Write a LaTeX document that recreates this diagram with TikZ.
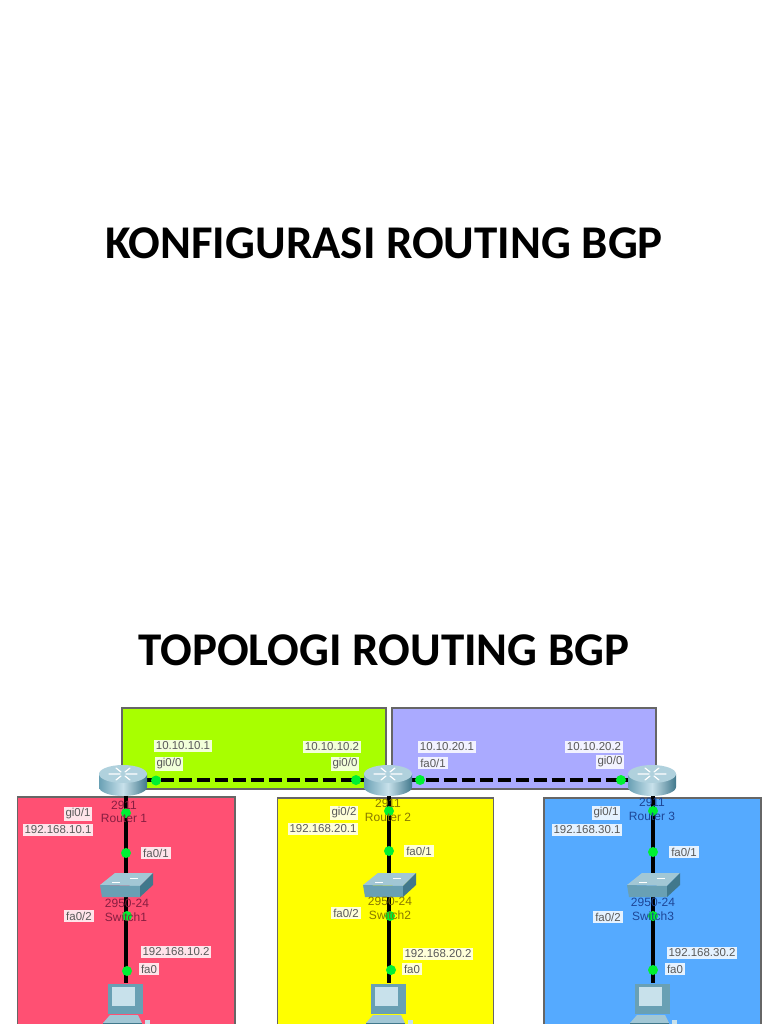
\documentclass[tikz,border=0pt]{standalone}
\usepackage{fontspec}
\setmainfont{Carlito}
\newfontfamily\labelfont{Liberation Sans}
\definecolor{greenzone}{RGB}{168, 255, 0}
\definecolor{purplezone}{RGB}{170, 170, 255}
\definecolor{pinkzone}{RGB}{255, 80, 115}
\definecolor{yellowzone}{RGB}{255, 255, 0}
\definecolor{bluezone}{RGB}{85, 170, 255}
\definecolor{pinktext}{RGB}{135, 30, 65}
\definecolor{yellowtext}{RGB}{135, 120, 0}
\definecolor{bluetext}{RGB}{30, 70, 150}
\definecolor{portgreen}{RGB}{0, 240, 50}
\definecolor{devicesteel}{RGB}{105, 160, 180}
\definecolor{devicelight}{RGB}{200, 225, 235}
\definecolor{devicedark}{RGB}{65, 120, 140}
\tikzset{
    zone/.style={draw=black!60, line width=0.8pt},
    titletext/.style={font=\bfseries\fontsize{35.2}{38}\selectfont, inner sep=0pt},
    portlabel/.style={fill=white, fill opacity=0.85, text opacity=1, text=black!65, font=\labelfont\fontsize{8.6}{10}\selectfont, inner xsep=1.5pt, inner ysep=1.5pt},
    devicetext/.style={font=\labelfont\fontsize{9}{10}\selectfont, inner sep=0pt},
    port/.style={circle, fill=portgreen, inner sep=0pt, minimum size=7.5pt},
    device/.style={inner sep=0pt, minimum size=2pt},
    cable/.style={line width=3pt, black},
    wancable/.style={line width=3.2pt, black, dash pattern=on 10pt off 3.5pt},
}
\begin{document}
\begin{tikzpicture}[x=0.75pt, y=-0.75pt]
        \useasboundingbox (0,0) rectangle (768,1024);
        \clip (0,0) rectangle (768,1024);

        % Titles
        \node[titletext] (konfigurasi) at (384,243) {KONFIGURASI ROUTING BGP};
        \node[titletext] (topologi) at (384,650) {TOPOLOGI ROUTING BGP};

        % Zones
        \foreach \name/\xa/\ya/\xb/\yb/\col in {zonea/122/708/386/789/greenzone, zoneb/392/708/656/789/purplezone, zonec/17.5/797/235/1030/pinkzone, zoned/277.5/798/493.5/1030/yellowzone, zonee/544/798/761/1030/bluezone} {
            \filldraw[zone, fill=\col] (\xa,\ya) rectangle (\xb,\yb);
        }

        % Devices and ports
        \foreach \n/\rx/\ry/\lx in {1/123/780/126, 2/388/780/389, 3/652/780/653} {
            \node[device] (router\n) at (\rx,\ry) {};
            \coordinate (uplink\n) at (\lx,\ry);
            \node[device] (switch\n) at (\lx,885) {};
            \node[device] (pc\n) at (\lx,985) {};
        }

        % Cables
        \draw[wancable] (router1) -- (router2);
        \draw[wancable] (router2) -- (router3);
        \foreach \n in {1,2,3} {
            \draw[cable] (uplink\n) -- (switch\n);
            \draw[cable] (switch\n) -- (pc\n);
        }

        % Routers
        \foreach \n in {1,2,3} {
            \begin{scope}[shift={(router\n)}]
                \shade[left color=devicesteel, right color=devicedark, middle color=devicelight] (-24,-6) -- (-24,7) arc[start angle=180, end angle=0, x radius=24, y radius=9] -- (24,-6) -- cycle;
                \fill[devicelight!75!devicesteel] (0,-6) ellipse[x radius=24, y radius=9];
                \draw[white, line width=0.9pt, line cap=round] (-14,-6) -- (-3,-6) (3,-6) -- (14,-6) (-7,-12) -- (-2,-8) (7,-12) -- (2,-8) (-7,0) -- (-2,-4) (7,0) -- (2,-4);
            \end{scope}
        }

        % Switches
        \foreach \n in {1,2,3} {
            \begin{scope}[shift={(switch\n)}]
                \fill[devicelight!60!devicesteel] (-26,0) -- (-11,-12) -- (27,-12) -- (14,1) -- cycle;
                \fill[devicesteel] (-26,0) -- (14,1) -- (14,12) -- (-24,12) -- cycle;
                \fill[devicedark] (14,1) -- (27,-12) -- (27,0) -- (14,12) -- cycle;
                \draw[white, line width=0.6pt] (-14,-3) -- (-6,-3) (4,-7) -- (12,-7);
            \end{scope}
        }

        % PCs
        \foreach \n in {1,2,3} {
            \begin{scope}[shift={(pc\n)}]
                \fill[devicesteel] (-18,-1) rectangle (17,29);
                \fill[devicelight] (-14,2) rectangle (9,21);
                \fill[devicelight!60!devicesteel] (-16,30) -- (12,30) -- (16,38) -- (-23,38) -- cycle;
                \fill[devicedark] (-23,38) rectangle (16,41);
                \fill[devicelight] (19,35) rectangle (24,40);
            \end{scope}
        }

        % Ports
        \foreach \name/\x/\y in {pa/156/780.5, pb/356/780, pc/420/780, pd/621/780, pe/126/813, pf/126/853, pg/127/916, ph/127/971, pi/389/811, pj/389/851, pk/390/916, pl/391/970, pm/653/811, pn/653/852, po/653/916, pp/653/970} {
            \node[port] (\name) at (\x,\y) {};
        }

        % Device names
        \foreach \name/\x/\y/\txt/\col in {ra/124/805/2911/pinktext, rb/124/818/Router 1/pinktext, sa/127/903/2950-24/pinktext, sb/126/917/Switch1/pinktext, rc/388/803/2911/yellowtext, rd/388/817/Router 2/yellowtext, sc/390/901/2950-24/yellowtext, sd/390/915/Switch2/yellowtext, re/652/802/2911/bluetext, rf/652/816/Router 3/bluetext, se/653/902/2950-24/bluetext, sf/653/916/Switch3/bluetext} {
            \node[devicetext, text=\col] (\name) at (\x,\y) {\txt};
        }

        % Interface labels
        \foreach \name/\x/\y/\txt in {la/183/746/10.10.10.1, lb/169/764/{gi0/0}, lc/332/747/10.10.10.2, ld/345/764/{gi0/0}, le/447/747/10.10.20.1, lf/433/763/{fa0/1}, lg/594/747/10.10.20.2, lh/610/762/{gi0/0}, li/78/814/{gi0/1}, lj/58/830/192.168.10.1, lk/156/853/{fa0/1}, ll/79/916/{fa0/2}, lm/176/952/192.168.10.2, ln/149/969/fa0, lo/344/813/{gi0/2}, lp/323/829/192.168.20.1, lq/419/851/{fa0/1}, lr/346/913/{fa0/2}, ls/438/954/192.168.20.2, lt/412/969/fa0, lu/606/813/{gi0/1}, lv/587/830/192.168.30.1, lw/684/852/{fa0/1}, lx/608/917/{fa0/2}, ly/702/953/192.168.30.2, lz/675/969/fa0} {
            \node[portlabel] (\name) at (\x,\y) {\txt};
        }
    \end{tikzpicture}
\end{document}
